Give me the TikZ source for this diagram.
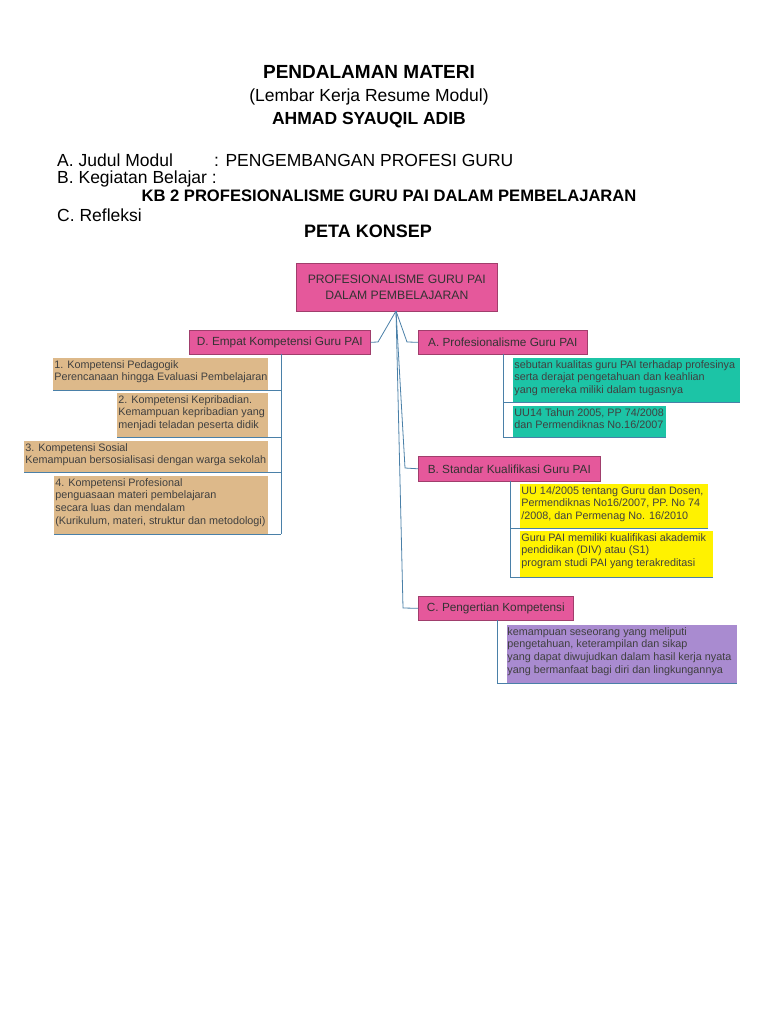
\documentclass[tikz,border=0pt]{standalone}
\usepackage{fontspec}
\setmainfont{Liberation Sans}
\begin{document}
\begin{tikzpicture}[x=1pt,y=-1pt,
 box/.style={draw=#1!70!black,line width=0.6pt,fill=#1,inner sep=0pt,align=left},
 lbl/.style={font=\fontsize{11.8}{13}\selectfont,text=black!80},
 bar/.style={anchor=north west,inner sep=1.2pt,align=left,font=\fontsize{10.8}{12.6}\selectfont,text=black!75},
 conn/.style={draw=lnk,line width=0.8pt},
 hd/.style={font=\fontsize{17.5}{19}\selectfont,inner sep=0},
 ttl/.style={font=\bfseries\fontsize{17.5}{19}\selectfont}]
\definecolor{pk}{HTML}{E5589B}
\definecolor{tl}{HTML}{1CC4A6}
\definecolor{yl}{HTML}{FFF200}
\definecolor{pu}{HTML}{A98BD0}
\definecolor{tn}{HTML}{DDB98A}
\definecolor{lnk}{HTML}{4A80A8}
\useasboundingbox (0,0) rectangle (768,1024);
\fill[white] (0,0) rectangle (768,1024);
% header
\node[ttl,font=\bfseries\fontsize{19}{21}\selectfont] (t1) at (369,72) {PENDALAMAN MATERI};
\node[hd] (t2) at (369,97) {(Lembar Kerja Resume Modul)};
\node[ttl] (t3) at (369,120) {AHMAD SYAUQIL ADIB};
\node[hd,anchor=west] (la) at (57,160) {A. Judul Modul};
\node[hd,anchor=west] (la2) at (214,160) {: PENGEMBANGAN PROFESI GURU};
\node[hd,anchor=west] (lb) at (57,179) {B. Kegiatan Belajar :};
\node[ttl,font=\bfseries\fontsize{16.6}{18}\selectfont] (kb) at (389,196) {KB 2 PROFESIONALISME GURU PAI DALAM PEMBELAJARAN};
\node[hd,anchor=west] (lc) at (57,215) {C. Refleksi};
\node[ttl,font=\bfseries\fontsize{18}{20}\selectfont] (pk) at (368,231) {PETA KONSEP};
% rectangles as nodes
\newcommand\bx[6]{\node[box=#2,minimum width=#5-#3,minimum height=#6-#4,anchor=north west] (#1) at (#3,#4) {};}
\bx{root}{pk}{296}{263}{497}{311}
\node[lbl,font=\fontsize{12.2}{16}\selectfont,align=center] at (root) {PROFESIONALISME GURU PAI\\DALAM PEMBELAJARAN};
\bx{D}{pk}{189}{330}{370}{354}
\node[lbl] at (D) {D. Empat Kompetensi Guru PAI};
\bx{A}{pk}{418}{330}{587}{354}
\node[lbl] at (A) {A. Profesionalisme Guru PAI};
\bx{B}{pk}{418}{456}{600}{481}
\node[lbl] at (B) {B. Standar Kualifikasi Guru PAI};
\bx{C}{pk}{418}{596}{573}{620}
\node[lbl] at (C) {C. Pengertian Kompetensi};
% child boxes
\newcommand\cb[6]{\fill[#2] (#3,#4) rectangle (#5,#6); \draw[lnk,line width=0.7pt] (#3,#6) -- (#5,#6); \coordinate (#1) at (#3,#6);}
\cb{a1}{tl}{513}{358}{740}{402}
\node[bar] at (513,359) {sebutan kualitas guru PAI terhadap profesinya\\serta derajat pengetahuan dan keahlian\\yang mereka miliki dalam tugasnya};
\cb{a2}{tl}{513}{406}{666}{437}
\node[bar] at (513,407) {UU14 Tahun 2005, PP 74/2008\\dan Permendiknas No.16/2007};
\cb{b1}{yl}{520}{484}{708}{528}
\node[bar] at (520,485) {UU 14/2005 tentang Guru dan Dosen,\\Permendiknas No16/2007, PP. No 74\\/2008, dan Permenag No. 16/2010};
\cb{b2}{yl}{520}{531}{713}{577}
\node[bar] at (520,532) {Guru PAI memiliki kualifikasi akademik\\pendidikan (DIV) atau (S1)\\program studi PAI yang terakreditasi};
\cb{c1}{pu}{507}{625}{737}{683}
\node[bar] at (506,626) {kemampuan seseorang yang meliputi\\pengetahuan, keterampilan dan sikap\\yang dapat diwujudkan dalam hasil kerja nyata\\yang bermanfaat bagi diri dan lingkungannya};
\cb{d1}{tn}{53}{358}{268}{390}
\node[bar] at (53,359) {1. Kompetensi Pedagogik\\Perencanaan hingga Evaluasi Pembelajaran};
\cb{d2}{tn}{117}{393}{268}{437}
\node[bar] at (117,394) {2. Kompetensi Kepribadian.\\Kemampuan kepribadian yang\\menjadi teladan peserta didik};
\cb{d3}{tn}{24}{441}{268}{472}
\node[bar] at (24,442) {3. Kompetensi Sosial\\Kemampuan bersosialisasi dengan warga sekolah};
\cb{d4}{tn}{54}{476}{268}{534}
\node[bar] at (54,477) {4. Kompetensi Profesional\\penguasaan materi pembelajaran\\secara luas dan mendalam\\(Kurikulum, materi, struktur dan metodologi)};
% connectors
\coordinate (rb) at (396,311);
\draw[conn] (rb) -- (378,342) -- (D.east);
\draw[conn] (rb) -- (407,342) -- (A.west);
\draw[conn] (rb) -- (405,468) -- (B.west);
\draw[conn] (rb) -- (403,608) -- (C.west);
\draw[conn] (281,354) -- (281,534);
\foreach \y in {390,437,472,534} \draw[conn] (281,\y) -- (268,\y);
\draw[conn] (503,354) -- (503,437);
\foreach \y in {402,437} \draw[conn] (503,\y) -- (513,\y);
\draw[conn] (510,481) -- (510,577);
\foreach \y in {528,577} \draw[conn] (510,\y) -- (520,\y);
\draw[conn] (497,620) -- (497,683) -- (507,683);
\end{tikzpicture}
\end{document}
